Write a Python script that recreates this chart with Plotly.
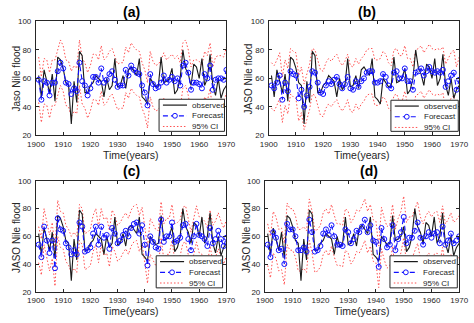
import plotly.graph_objects as go

years = list(range(1901, 1971))

observed = [62,47,66,57,50,63,44,75,73,67,
            57,55,28,58,43,79,76,50,50,55,
            57,62,60,58,47,60,52,55,74,54,
            55,62,53,66,68,65,62,74,47,45,
            42,60,57,54,55,75,57,58,60,67,
            49,52,60,80,67,63,55,70,68,60,
            74,55,60,77,55,48,60,46,52,55]

forecast_a = [59,45,58,57,48,57,57,65,71,67,
              57,56,49,53,51,71,58,55,48,53,
              61,61,57,67,57,59,63,65,59,54,
              55,55,66,62,69,66,64,63,55,50,
              41,63,56,53,54,57,62,57,59,61,
              58,60,55,69,71,64,52,57,57,56,
              53,63,60,69,52,59,60,60,59,66]
upper_a = [75,61,74,73,64,73,73,81,87,83,
           73,72,65,69,67,87,74,71,64,69,
           77,77,73,83,73,75,79,81,75,70,
           71,71,82,78,85,82,80,79,71,66,
           57,79,72,69,70,73,78,73,75,77,
           74,76,71,85,87,80,68,73,73,72,
           69,79,76,85,68,75,76,76,75,82]
lower_a = [43,29,42,41,32,41,41,49,55,51,
           41,40,33,37,35,55,42,39,32,37,
           45,45,41,51,41,43,47,49,43,38,
           39,39,50,46,53,50,48,47,39,34,
           25,47,40,37,38,41,46,41,43,45,
           42,44,39,53,55,48,36,41,41,40,
           37,47,44,53,36,43,44,44,43,50]

forecast_b = [55,53,57,62,45,57,51,65,63,62,
              46,52,40,48,54,65,64,57,50,49,
              55,58,56,59,61,56,53,56,61,53,
              52,58,54,58,60,64,65,65,57,57,
              58,63,61,55,53,64,65,60,60,67,
              58,58,52,64,65,67,62,65,68,65,
              64,65,64,66,54,58,62,64,52,59]
upper_b = [71,69,73,78,61,73,67,81,79,78,
           62,68,56,64,70,81,80,73,66,65,
           71,74,72,75,77,72,69,72,77,69,
           68,74,70,74,76,80,81,81,73,73,
           74,79,77,71,69,80,81,76,76,83,
           74,74,68,80,81,83,78,81,84,81,
           80,81,80,82,70,74,78,80,68,75]
lower_b = [39,37,41,46,29,41,35,49,47,46,
           30,36,24,32,38,49,48,41,34,33,
           39,42,40,43,45,40,37,40,45,37,
           36,42,38,42,44,48,49,49,41,41,
           42,47,45,39,37,48,49,44,44,51,
           42,42,36,48,49,51,46,49,52,49,
           48,49,48,50,38,42,46,48,36,43]

forecast_c = [54,45,67,57,48,57,37,73,65,64,
              55,52,47,50,47,70,67,49,50,52,
              62,67,54,67,59,61,51,66,62,55,
              57,61,64,60,66,69,70,62,68,54,
              39,60,56,52,51,72,56,60,60,70,
              56,57,59,68,69,58,50,60,69,61,
              60,58,53,66,55,58,64,58,53,59]
upper_c = [67,58,80,70,61,70,50,86,78,77,
           68,65,60,63,60,83,80,62,63,65,
           75,80,67,80,72,74,64,79,75,68,
           70,74,77,73,79,82,83,75,81,67,
           52,73,69,65,64,85,69,73,73,83,
           69,70,72,81,82,71,63,73,82,74,
           73,71,66,79,68,71,77,71,66,72]
lower_c = [41,32,54,44,35,44,24,60,52,51,
           42,39,34,37,34,57,54,36,37,39,
           49,54,41,54,46,48,38,53,49,42,
           44,48,51,47,53,56,57,49,55,41,
           26,47,43,39,38,59,43,47,47,57,
           43,44,46,55,56,45,37,47,56,48,
           47,45,40,53,42,45,51,45,40,46]

forecast_d = [54,45,63,59,50,51,40,69,65,65,
              60,50,50,52,49,72,63,49,50,53,
              62,65,61,68,60,54,54,53,65,63,
              55,58,64,63,67,72,63,68,57,56,
              38,66,58,52,54,68,50,58,63,74,
              55,59,59,64,70,59,54,60,63,59,
              62,63,55,67,54,57,62,55,57,60]
upper_d = [69,60,78,74,65,66,55,84,80,80,
           75,65,65,67,64,87,78,64,65,68,
           77,80,76,83,75,69,69,68,80,78,
           70,73,79,78,82,87,78,83,72,71,
           53,81,73,67,69,83,65,73,78,89,
           70,74,74,79,85,74,69,75,78,74,
           77,78,70,82,69,72,77,70,72,75]
lower_d = [39,30,48,44,35,36,25,54,50,50,
           45,35,35,37,34,57,48,34,35,38,
           47,50,46,53,45,39,39,38,50,48,
           40,43,49,48,52,57,48,53,42,41,
           23,51,43,37,39,53,35,43,48,59,
           40,44,44,49,55,44,39,45,48,44,
           47,48,40,52,39,42,47,40,42,45]

panel_titles = ["(a)", "(b)", "(c)", "(d)"]
y_titles = ["Jaso Nile flood", "JASO Nile flood", "JASO Nile flood", "JASO Nile flood"]
x_title = "Time(years)"
x_ticks = [1900, 1910, 1920, 1930, 1940, 1950, 1960, 1970]
y_ticks = [20, 40, 60, 80, 100]
legend_names = ["observed", "Forecast", "95% CI"]

W, H = 474, 323
FONT = "Liberation Sans, Arial, sans-serif"

# pixel boxes: left, right, top, bottom
boxes = [(28, 226, 18, 135), (270, 468, 18, 135), (28, 226, 182, 296), (266, 468, 182, 296)]
legend_box = [(156, 224, 98, 131), (397, 467, 99, 131), (153, 222, 259, 292), (396, 466, 259, 292)]
title_pos = [(127, 8), (372, 8), (127, 172), (374, 172)]
xlab_pos = [(127, 155), (367, 155), (127, 316), (367, 316)]
ylab_pos = [(8, 77), (249, 77), (8, 240), (247, 240)]

forecasts = [forecast_a, forecast_b, forecast_c, forecast_d]
uppers = [upper_a, upper_b, upper_c, upper_d]
lowers = [lower_a, lower_b, lower_c, lower_d]

BLACK = "#1a1a1a"
BLUE = "#1010ff"
RED = "rgb(255,80,80)"
DOT = "1.5px,2px"

def px(x):
    return x / W

def py(y):
    return (H - y) / H

fig = go.Figure()
layout = dict(width=W, height=H, margin=dict(l=0, r=0, t=0, b=0),
              paper_bgcolor="white", plot_bgcolor="white", showlegend=False,
              font=dict(family=FONT, size=9, color="#262626"), annotations=[], shapes=[])

for k in range(4):
    sx = "" if k == 0 else str(k + 1)
    xa, ya = "x" + sx, "y" + sx
    fig.add_trace(go.Scatter(x=years, y=uppers[k], mode="lines", name="95% CI",
                             line=dict(color=RED, width=1, dash=DOT), xaxis=xa, yaxis=ya))
    fig.add_trace(go.Scatter(x=years, y=lowers[k], mode="lines", name="95% CI",
                             line=dict(color=RED, width=1, dash=DOT), xaxis=xa, yaxis=ya))
    fig.add_trace(go.Scatter(x=years, y=observed, mode="lines", name="observed",
                             line=dict(color=BLACK, width=1.1), xaxis=xa, yaxis=ya))
    fig.add_trace(go.Scatter(x=years, y=forecasts[k], mode="lines+markers", name="Forecast",
                             line=dict(color=BLUE, width=1.1, dash="5px,3px"),
                             marker=dict(symbol="circle-open", size=5, color=BLUE,
                                         line=dict(width=1, color=BLUE)),
                             xaxis=xa, yaxis=ya))
    l, r, t, b = boxes[k]
    axcommon = dict(showline=True, linecolor="#262626", linewidth=1, mirror="ticks",
                    ticks="inside", ticklen=3, tickcolor="#262626", showgrid=False,
                    zeroline=False, tickfont=dict(size=8, family=FONT, color="#262626"))
    layout["xaxis" + sx] = dict(domain=[px(l), px(r)], range=[1900, 1970],
                                tickvals=x_ticks, anchor=ya, ticklabelstandoff=1, **axcommon)
    layout["yaxis" + sx] = dict(domain=[py(b), py(t)], range=[20, 100],
                                tickvals=y_ticks, anchor=xa, ticklabelstandoff=2, **axcommon)

    # legend box drawn in paper space
    L, R, T, B = legend_box[k]
    layout["shapes"].append(dict(type="rect", xref="paper", yref="paper", layer="above",
                                 x0=px(L), x1=px(R), y0=py(B), y1=py(T),
                                 line=dict(color="#262626", width=1), fillcolor="white"))
    rows = [T + 6, T + 17, T + 28]
    styles = [dict(color=BLACK, width=1.2), dict(color=BLUE, width=1.2, dash="5px,3px"),
              dict(color=RED, width=1, dash=DOT)]
    for i in range(3):
        layout["shapes"].append(dict(type="line", xref="paper", yref="paper", layer="above",
                                     x0=px(L + 4), x1=px(L + 29), y0=py(rows[i]), y1=py(rows[i]),
                                     line=styles[i]))
        layout["annotations"].append(dict(text=legend_names[i], x=px(L + 32), y=py(rows[i]),
                                          xref="paper", yref="paper", xanchor="left", yanchor="middle",
                                          showarrow=False,
                                          font=dict(size=8, family=FONT, color="#262626")))
    cx, cy = L + 16.5, rows[1]
    layout["shapes"].append(dict(type="circle", xref="paper", yref="paper", layer="above",
                                 x0=px(cx - 2.5), x1=px(cx + 2.5), y0=py(cy + 2.5), y1=py(cy - 2.5),
                                 line=dict(color=BLUE, width=1), fillcolor="white"))

    tx, ty = title_pos[k]
    layout["annotations"].append(dict(text="<b>" + panel_titles[k] + "</b>", x=px(tx), y=py(ty),
                                      xref="paper", yref="paper", xanchor="center", yanchor="middle",
                                      showarrow=False, font=dict(size=14, family=FONT, color="#000")))
    xx, xy = xlab_pos[k]
    layout["annotations"].append(dict(text=x_title, x=px(xx), y=py(xy),
                                      xref="paper", yref="paper", xanchor="center", yanchor="middle",
                                      showarrow=False, font=dict(size=10.5, family=FONT, color="#262626")))
    yx, yy = ylab_pos[k]
    layout["annotations"].append(dict(text=y_titles[k], x=px(yx), y=py(yy), textangle=-90,
                                      xref="paper", yref="paper", xanchor="center", yanchor="middle",
                                      showarrow=False, font=dict(size=10, family=FONT, color="#262626")))

fig.update_layout(**layout)
fig.write_html("out.html")
